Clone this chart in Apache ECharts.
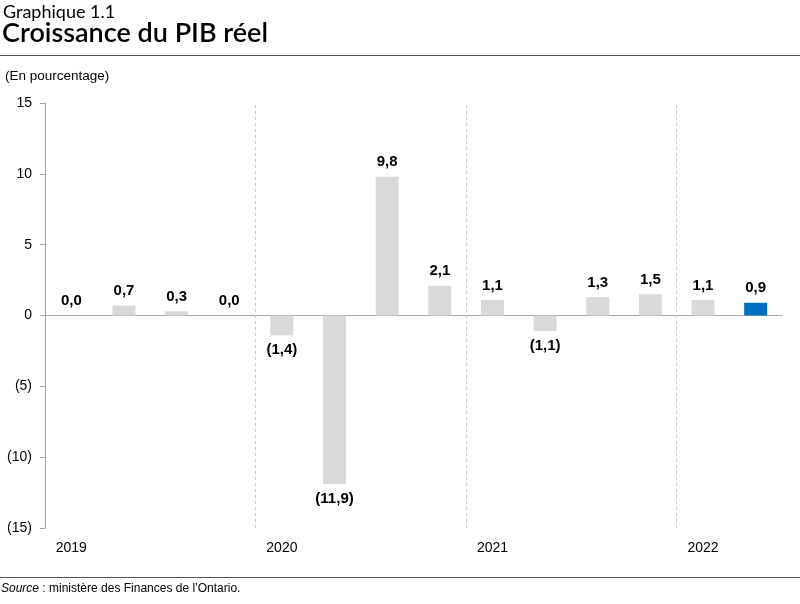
<!DOCTYPE html>
<html><head><meta charset="utf-8">
<script src="https://cdn.jsdelivr.net/npm/echarts@6/dist/echarts.min.js"></script>
<style>html,body{margin:0;padding:0;background:#fff}#c{width:800px;height:604px}</style>
</head><body><div id="c"></div>
<script>
const quarters = ['T1 2019','T2 2019','T3 2019','T4 2019','T1 2020','T2 2020','T3 2020','T4 2020','T1 2021','T2 2021','T3 2021','T4 2021','T1 2022','T2 2022'];
const yearLabels = ['2019','','','','2020','','','','2021','','','','2022',''];
const yearBoundaries = [4, 8, 12];
const growth = [0.0, 0.7, 0.3, 0.0, -1.4, -11.9, 9.8, 2.1, 1.1, -1.1, 1.3, 1.5, 1.1, 0.9];
const yTicks = { min: -15, max: 15, interval: 5 };

const fmt = v => { const s = Math.abs(v).toFixed(1).replace('.', ','); return v < 0 ? '(' + s + ')' : s; };
const fmtAxis = v => v < 0 ? '(' + Math.abs(v) + ')' : String(v);
const FONT = '"Liberation Sans", Arial, sans-serif';

const chart = echarts.init(document.getElementById('c'));
chart.setOption({
  animation: false,
  grid: { left: 45, right: 18, top: 103, bottom: 76 },
  xAxis: [{
    type: 'category', data: quarters,
    axisLine: { onZero: true, lineStyle: { color: '#a6a6a6', width: 1 } },
    axisTick: { show: false }, axisLabel: { show: false }, splitLine: { show: false }
  }, {
    type: 'category', data: yearLabels, position: 'bottom',
    axisLine: { show: false }, axisTick: { show: false },
    axisLabel: { interval: 0, color: '#000', fontFamily: FONT, fontSize: 14, margin: 13 },
    splitLine: { show: false }
  }, {
    type: 'value', min: 0, max: quarters.length, show: false
  }],
  yAxis: {
    type: 'value', min: yTicks.min, max: yTicks.max, interval: yTicks.interval,
    axisLine: { show: true, lineStyle: { color: '#a6a6a6' } },
    axisTick: { show: true, length: 5, lineStyle: { color: '#a6a6a6' } },
    axisLabel: { formatter: fmtAxis, color: '#000', fontFamily: FONT, fontSize: 14, margin: 13 },
    splitLine: { show: false }
  },
  series: [{
    type: 'bar', xAxisIndex: 0, barWidth: 23,
    data: growth.map((v, i) => ({
      value: v,
      itemStyle: { color: i === growth.length - 1 ? '#0070c0' : '#d9d9d9' },
      label: { position: v < 0 ? 'bottom' : 'top' }
    })),
    label: { show: true, formatter: p => fmt(p.value), fontFamily: FONT, fontWeight: 'bold', fontSize: 15, color: '#000', distance: 7 }
  }, {
    type: 'line', xAxisIndex: 2, data: [], silent: true,
    markLine: {
      symbol: 'none', silent: true, label: { show: false },
      lineStyle: { color: '#c8c8c8', type: [3, 3], width: 1 },
      data: yearBoundaries.map(b => ({ xAxis: b }))
    }
  }],
  graphic: [
    { type: 'text', left: 3, top: 3, style: { text: 'Graphique 1.1', font: '18px Lato, "Open Sans", sans-serif', fill: '#000' } },
    { type: 'text', left: 2, top: 20, style: { text: 'Croissance du PIB réel', font: '600 27px Lato, "Open Sans", sans-serif', fill: '#000' } },
    { type: 'line', shape: { x1: 0, y1: 55.5, x2: 800, y2: 55.5 }, style: { stroke: '#555', lineWidth: 1 } },
    { type: 'text', left: 5, top: 69, style: { text: '(En pourcentage)', font: '13.5px ' + FONT, fill: '#000' } },
    { type: 'line', shape: { x1: 0, y1: 577.5, x2: 800, y2: 577.5 }, style: { stroke: '#555', lineWidth: 1 } },
    { type: 'text', left: 1, top: 583, style: {
      text: '{i|Source} : ministère des Finances de l\u2019Ontario.',
      font: '12px ' + FONT, fill: '#000',
      rich: { i: { fontStyle: 'italic', fontSize: 12, fontFamily: FONT } }
    } }
  ]
});
</script></body></html>
